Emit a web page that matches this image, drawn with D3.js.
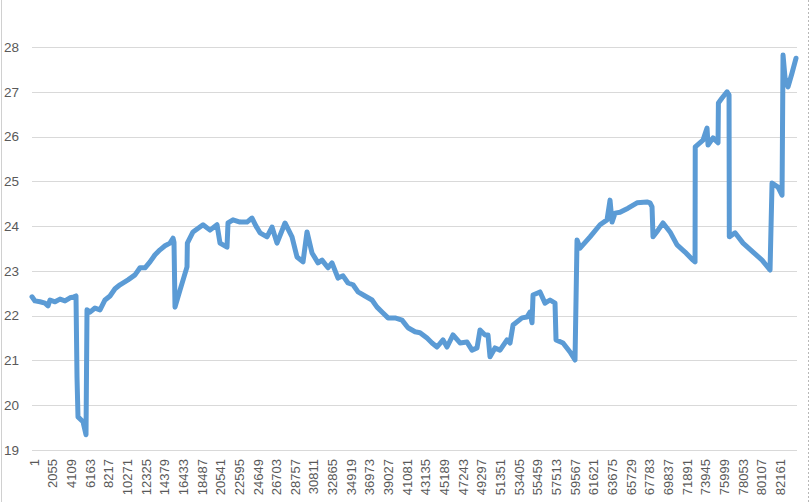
<!DOCTYPE html>
<html>
<head>
<meta charset="utf-8">
<script src="https://cdn.jsdelivr.net/npm/d3@7"></script>
<style>
  html, body { margin: 0; padding: 0; background: #fff; }
  svg { display: block; }
  text { font-family: "Liberation Sans", "DejaVu Sans", sans-serif; }
</style>
</head>
<body>
<svg id="chart" width="811" height="502"></svg>
<script>
// Category tick labels (every 2054th sample)
const xTickLabels = [1, 2055, 4109, 6163, 8217, 10271, 12325, 14379, 16433, 18487, 20541,
  22595, 24649, 26703, 28757, 30811, 32865, 34919, 36973, 39027, 41081, 43135, 45189,
  47243, 49297, 51351, 53405, 55459, 57513, 59567, 61621, 63675, 65729, 67783, 69837,
  71891, 73945, 75999, 78053, 80107, 82161];
const yTickLabels = [19, 20, 21, 22, 23, 24, 25, 26, 27, 28];
const sampleCount = 84200;

// Series: sample index and value
const sampleIndex = [1, 331, 882, 1432, 1762, 1982, 2533, 3083, 3633, 4184, 4624, 4844, 4954, 5064,
  5614, 5945, 6055, 6385, 6935, 7486, 8036, 8586, 9137, 9687, 10568, 11338, 11889, 12439, 12989,
  13540, 14090, 14640, 15191, 15521, 15631, 15741, 16292, 17062, 17100, 17722, 18823, 19593, 20364,
  20694, 21465, 21575, 22125, 22896, 23666, 24216, 24657, 25097, 25868, 26418, 26968, 27849, 28619,
  29169, 29830, 30270, 30821, 31481, 31921, 32582, 33022, 33682, 34233, 34783, 35333, 35884, 36654,
  37425, 37975, 38635, 39186, 39956, 40727, 41387, 42158, 42708, 43478, 44029, 44579, 45239, 45680,
  46340, 47111, 47881, 48431, 48982, 49312, 49862, 50192, 50413, 50963, 51513, 52284, 52614, 52945,
  53935, 54485, 54815, 55036, 55146, 55916, 56467, 57017, 57567, 57677, 58448, 59218, 59768, 59989,
  60319, 61420, 62520, 63291, 63621, 63841, 64172, 64722, 65603, 66593, 67694, 68024, 68244, 68354,
  68905, 69455, 70225, 70996, 71877, 72757, 72978, 73000, 73858, 74298, 74408, 74959, 75509, 75550,
  75950, 76500, 76720, 76750, 77380, 78261, 79362, 80352, 81233, 81453, 82113, 82553, 82663, 82883,
  83214, 83654, 84094];
const sampleValue = [22.42, 22.33, 22.31, 22.28, 22.22, 22.35, 22.31, 22.37, 22.33, 22.40, 22.42, 22.44,
  20.63, 19.74, 19.63, 19.34, 22.13, 22.08, 22.17, 22.13, 22.35, 22.44, 22.60, 22.69, 22.80, 22.91,
  23.07, 23.07, 23.20, 23.36, 23.47, 23.56, 23.62, 23.73, 23.64, 22.19, 22.57, 23.09, 23.62, 23.87,
  24.03, 23.91, 24.03, 23.62, 23.53, 24.07, 24.14, 24.09, 24.09, 24.18, 24.00, 23.85, 23.76, 23.98,
  23.62, 24.07, 23.76, 23.31, 23.20, 23.87, 23.40, 23.18, 23.24, 23.07, 23.18, 22.84, 22.89, 22.73,
  22.69, 22.53, 22.44, 22.35, 22.19, 22.06, 21.95, 21.95, 21.90, 21.73, 21.64, 21.62, 21.50, 21.39,
  21.30, 21.46, 21.30, 21.57, 21.39, 21.41, 21.23, 21.28, 21.68, 21.57, 21.57, 21.08, 21.28, 21.23,
  21.46, 21.39, 21.79, 21.95, 21.97, 22.08, 21.84, 22.46, 22.53, 22.28, 22.35, 22.28, 21.46, 21.39,
  21.19, 21.01, 23.69, 23.51, 23.76, 24.03, 24.14, 24.58, 24.09, 24.29, 24.31, 24.40, 24.52, 24.54,
  24.52, 24.43, 23.76, 23.91, 24.07, 23.87, 23.58, 23.42, 23.24, 23.20, 25.77, 25.92, 26.19, 25.81,
  25.97, 25.86, 26.75, 26.86, 27.00, 26.93, 23.76, 23.85, 23.62, 23.42, 23.24, 23.02, 24.96, 24.87,
  24.69, 27.82, 27.31, 27.11, 27.42, 27.75];

const data = sampleIndex.map((d, i) => ({ x: d, y: sampleValue[i] }));

const svg = d3.select("#chart");
const plotLeft = 32, plotRight = 797, plotTop = 47, plotBottom = 450;

const x = d3.scaleLinear().domain([1, sampleCount]).range([plotLeft, plotRight]);
const y = d3.scaleLinear().domain([19, 28]).range([plotBottom, plotTop]);

// spreadsheet borders
svg.append("line").attr("x1", 1.5).attr("x2", 1.5).attr("y1", 0).attr("y2", 502)
  .attr("stroke", "#d0d0d0").attr("stroke-width", 1);
svg.append("line").attr("x1", 808.5).attr("x2", 808.5).attr("y1", 0).attr("y2", 502)
  .attr("stroke", "#b8b8b8").attr("stroke-width", 1).attr("stroke-dasharray", "2,2");

// gridlines
svg.append("g").selectAll("line").data(yTickLabels).join("line")
  .attr("x1", plotLeft).attr("x2", plotRight)
  .attr("y1", d => Math.round(y(d)) + 0.5).attr("y2", d => Math.round(y(d)) + 0.5)
  .attr("stroke", "#d9d9d9").attr("stroke-width", 1);

// y axis labels
const yAxis = d3.axisLeft(y).tickValues(yTickLabels).tickSize(0).tickPadding(0);
const gy = svg.append("g").attr("transform", `translate(4,0)`).call(yAxis);
gy.select(".domain").remove();
gy.selectAll("text").attr("text-anchor", "start").attr("x", 0)
  .attr("fill", "#595959").style("font-size", "13.5px");

// x axis labels
const xAxis = d3.axisBottom(x).tickValues(xTickLabels).tickSize(0).tickFormat(d => String(d));
const gx = svg.append("g").attr("transform", `translate(0,${plotBottom})`).call(xAxis);
gx.select(".domain").remove();
gx.selectAll("text")
  .attr("transform", "translate(1.5,9) rotate(-90)")
  .attr("text-anchor", "end").attr("x", 0).attr("y", 0).attr("dy", "0.35em")
  .attr("fill", "#595959").style("font-size", "13px");

// series line
const line = d3.line().x(d => x(d.x)).y(d => y(d.y));
svg.append("path").datum(data)
  .attr("d", line)
  .attr("fill", "none")
  .attr("stroke", "#5B9BD5")
  .attr("stroke-width", 5)
  .attr("stroke-linejoin", "round")
  .attr("stroke-linecap", "round");
</script>
</body>
</html>
